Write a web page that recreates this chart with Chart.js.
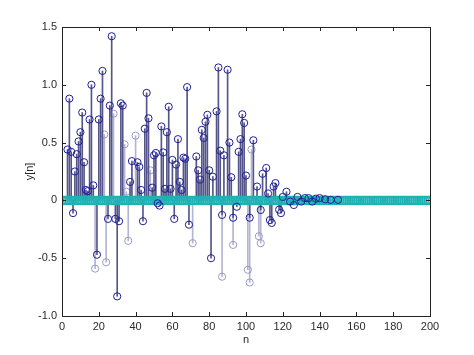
<!DOCTYPE html>
<html>
<head>
<meta charset="utf-8">
<script src="https://cdn.jsdelivr.net/npm/chart.js@4"></script>
<style>
  body { margin: 0; background: #fff; }
  #wrap { width: 474px; height: 355px; }
</style>
</head>
<body>
<div id="wrap"><canvas id="chart" width="474" height="355"></canvas></div>
<script>
// dark stems y[n]
const darkN = [3,4,5,6,7,8,9,10,11,12,13,14,15,16,17,19,20,21,22,25,26,27,29,30,31,32,33,
  37,38,41,42,43,44,45,46,47,49,50,51,52,53,54,55,56,57,58,59,60,61,62,63,64,65,66,67,68,69,
  73,74,75,76,77,78,79,80,81,82,84,85,86,87,88,90,91,92,93,95,96,97,98,99,100,102,104,106,
  108,109,111,112,113,114,115,116,118,119,120,122,124,126,128,130,132,134,136,138,140,143,146,150];
const darkY = [0.44,0.88,0.42,-0.11,0.25,0.40,0.51,0.59,0.76,0.33,0.09,0.08,0.70,1.0,0.13,-0.47,0.70,0.88,1.12,-0.16,0.82,1.42,-0.16,-0.83,-0.18,0.84,0.82,
  0.16,0.34,0.33,0.29,0.09,-0.18,0.62,0.93,0.71,0.11,0.39,0.41,-0.025,-0.045,0.64,0.415,0.10,0.59,0.81,0.10,0.35,-0.16,0.31,0.53,0.16,0.09,0.37,0.36,0.98,-0.21,
  0.38,0.26,0.18,0.61,0.54,0.68,0.74,0.26,-0.50,0.205,0.77,1.15,0.43,-0.126,0.39,1.13,0.50,0.20,-0.15,-0.055,0.42,0.53,0.745,0.67,0.215,-0.15,0.52,0.12,
  -0.083,0.23,0.28,0.06,-0.17,-0.195,0.12,0.15,-0.08,-0.11,0.03,0.075,-0.01,-0.04,0.03,-0.01,0.02,0.02,-0.01,0.015,0.02,0.01,0.005,0.005];

// light stems
const lightN = [18,23,24,28,34,35,36,40,48,71,87,93,101,102,103,107,108];
const lightY = [-0.59,0.57,-0.535,0.75,0.485,0.075,-0.35,0.56,0.26,-0.37,-0.66,-0.385,-0.60,-0.71,0.44,-0.31,-0.37];

// cyan stems, all at zero, n = 0..200
const cyanN = Array.from({length: 201}, (_, i) => i);
const cyanY = [
  0,0,0,0,0,0,0,0,0,0,0,0,0,0,0,0,0,0,0,0,
  0,0,0,0,0,0,0,0,0,0,0,0,0,0,0,0,0,0,0,0,
  0,0,0,0,0,0,0,0,0,0,0,0,0,0,0,0,0,0,0,0,
  0,0,0,0,0,0,0,0,0,0,0,0,0,0,0,0,0,0,0,0,
  0,0,0,0,0,0,0,0,0,0,0,0,0,0,0,0,0,0,0,0,
  0,0,0,0,0,0,0,0,0,0,0,0,0,0,0,0,0,0,0,0,
  0,0,0,0,0,0,0,0,0,0,0,0,0,0,0,0,0,0,0,0,
  0,0,0,0,0,0,0,0,0,0,0,0,0,0,0,0,0,0,0,0,
  0,0,0,0,0,0,0,0,0,0,0,0,0,0,0,0,0,0,0,0,
  0,0,0,0,0,0,0,0,0,0,0,0,0,0,0,0,0,0,0,0,
  0];

const xTicks = [0,20,40,60,80,100,120,140,160,180,200];
const yTicks = [-1,-0.5,0,0.5,1,1.5];

const pts = (ns, ys) => ns.map((n, i) => ({x: n, y: ys[i]}));

const axisBox = {
  id: 'axisBox',
  afterDatasetsDraw(chart) {
    const {ctx, chartArea: a, scales} = chart;
    ctx.save();
    ctx.strokeStyle = '#222';
    ctx.lineWidth = 1;
    ctx.strokeRect(Math.round(a.left) + 0.5, Math.round(a.top) + 0.5,
      Math.round(a.right - a.left), Math.round(a.bottom - a.top));
    ctx.beginPath();
    xTicks.forEach(t => {
      const px = Math.round(scales.x.getPixelForValue(t)) + 0.5;
      ctx.moveTo(px, a.bottom); ctx.lineTo(px, a.bottom - 4);
      ctx.moveTo(px, a.top); ctx.lineTo(px, a.top + 4);
    });
    yTicks.forEach(t => {
      const py = Math.round(scales.y.getPixelForValue(t)) + 0.5;
      ctx.moveTo(a.left, py); ctx.lineTo(a.left + 4, py);
      ctx.moveTo(a.right, py); ctx.lineTo(a.right - 4, py);
    });
    ctx.stroke();
    ctx.restore();
  }
};

const font = {family: '"Liberation Sans", Arial, sans-serif', size: 11};

new Chart(document.getElementById('chart'), {
  type: 'bar',
  data: {
    datasets: [
      {
        type: 'scatter', data: pts(darkN, darkY), order: 0,
        pointStyle: 'circle', pointRadius: 3.6, borderWidth: 1,
        borderColor: '#1e1e96', backgroundColor: 'transparent'
      },
      {
        type: 'scatter', data: pts(cyanN, cyanY), order: 1,
        pointStyle: 'circle', pointRadius: 4, borderWidth: 1.5,
        borderColor: '#1fb3b3', backgroundColor: 'transparent'
      },
      {
        type: 'bar', data: pts(darkN, darkY), order: 2,
        barThickness: 1, grouped: false, backgroundColor: '#55558a'
      },
      {
        type: 'scatter', data: pts(lightN, lightY), order: 3,
        pointStyle: 'circle', pointRadius: 3.6, borderWidth: 1,
        borderColor: '#9a9ac4', backgroundColor: 'transparent'
      },
      {
        type: 'bar', data: pts(lightN, lightY), order: 4,
        barThickness: 1, grouped: false, backgroundColor: '#b4b4d4'
      }
    ]
  },
  options: {
    responsive: false,
    animation: false,
    devicePixelRatio: 1,
    layout: {padding: {left: 0, top: 27, right: 44, bottom: 0}},
    plugins: {legend: {display: false}, tooltip: {enabled: false}},
    scales: {
      x: {
        type: 'linear', min: 0, max: 200, offset: false,
        afterFit: s => { s.height = 39; },
        afterBuildTicks: s => { s.ticks = xTicks.map(v => ({value: v})); },
        grid: {display: false, drawTicks: false},
        border: {display: false},
        ticks: {padding: 4, color: '#2a2a2a', font: font, maxRotation: 0},
        title: {display: true, text: 'n', color: '#2a2a2a', font: font, padding: {top: 0, bottom: 8}}
      },
      y: {
        min: -1, max: 1.5,
        afterFit: s => { s.width = 62; },
        afterBuildTicks: s => { s.ticks = yTicks.map(v => ({value: v})); },
        grid: {display: false, drawTicks: false},
        border: {display: false},
        ticks: {padding: 5, color: '#2a2a2a', font: font},
        title: {display: true, text: 'y[n]', color: '#2a2a2a', font: font, padding: {top: 23, bottom: 0}}
      }
    }
  },
  plugins: [axisBox]
});
</script>
</body>
</html>
